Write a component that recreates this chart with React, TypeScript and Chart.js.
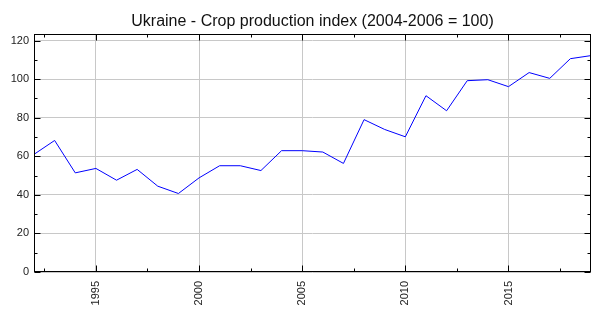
import React, { useEffect, useRef } from "react";
import { Chart, registerables } from "chart.js";

Chart.register(...registerables);

const TITLE = "Ukraine - Crop production index (2004-2006 = 100)";
const years = [1992, 1993, 1994, 1995, 1996, 1997, 1998, 1999, 2000, 2001, 2002, 2003, 2004, 2005, 2006, 2007, 2008, 2009, 2010, 2011, 2012, 2013, 2014, 2015, 2016, 2017, 2018, 2019];
const values = [61.0, 68.2, 51.4, 53.7, 47.6, 53.2, 44.5, 40.7, 48.8, 55.1, 55.1, 52.6, 62.9, 62.9, 62.2, 56.3, 79.0, 73.9, 70.1, 91.4, 83.6, 99.2, 99.7, 96.1, 103.4, 100.4, 110.6, 112.2];
const xTicks = [1995, 2000, 2005, 2010, 2015];
const xMinorTicks = [1992.5, 1997.5, 2002.5, 2007.5, 2012.5, 2017.5];
const yTicks = [0, 20, 40, 60, 80, 100, 120];
const yMinorTicks = [10, 30, 50, 70, 90, 110];
const X_MIN = 1992;
const X_MAX = 2019;
const Y_MIN = 0;
const Y_MAX = 123.4;

const FONT = "'Liberation Sans', Arial, sans-serif";

const titlePlugin = {
  id: "centeredTitle",
  afterDraw(chart: any) {
    const { ctx, chartArea } = chart;
    ctx.save();
    ctx.fillStyle = "#111";
    ctx.font = `16px ${FONT}`;
    ctx.textAlign = "center";
    ctx.textBaseline = "alphabetic";
    ctx.fillText(TITLE, (chartArea.left + chartArea.right) / 2, 26);
    ctx.restore();
  },
};

const framePlugin = {
  id: "frameTicks",
  afterDatasetsDraw(chart: any) {
    const { ctx, chartArea, scales } = chart;
    const { left, right, top, bottom } = chartArea;
    const x = scales.x;
    const y = scales.y;
    ctx.save();
    ctx.strokeStyle = "#000";
    ctx.lineWidth = 1;
    ctx.beginPath();
    const L = Math.round(left) + 0.5;
    const R = Math.round(right) - 0.5;
    const T = Math.round(top) + 0.5;
    const B = Math.round(bottom) - 0.5;
    const major = 6;
    const minor = 3;
    xTicks.forEach((v) => {
      const px = Math.round(x.getPixelForValue(v)) + 0.5;
      ctx.moveTo(px, B);
      ctx.lineTo(px, B - major);
      ctx.moveTo(px, T);
      ctx.lineTo(px, T + major);
    });
    xMinorTicks.forEach((v) => {
      const px = Math.round(x.getPixelForValue(v)) + 0.5;
      ctx.moveTo(px, B);
      ctx.lineTo(px, B - minor);
      ctx.moveTo(px, T);
      ctx.lineTo(px, T + minor);
    });
    yTicks.forEach((v) => {
      const py = Math.round(y.getPixelForValue(v)) + 0.5;
      ctx.moveTo(L, py);
      ctx.lineTo(L + major, py);
      ctx.moveTo(R, py);
      ctx.lineTo(R - major, py);
    });
    yMinorTicks.forEach((v) => {
      const py = Math.round(y.getPixelForValue(v)) + 0.5;
      ctx.moveTo(L, py);
      ctx.lineTo(L + minor, py);
      ctx.moveTo(R, py);
      ctx.lineTo(R - minor, py);
    });
    ctx.stroke();
    ctx.strokeRect(L, T, R - L, B - T);
    ctx.restore();
  },
};

export default function App() {
  const ref = useRef<HTMLCanvasElement | null>(null);
  useEffect(() => {
    if (!ref.current) return;
    const chart = new Chart(ref.current, {
      type: "line",
      data: {
        datasets: [
          {
            data: years.map((yr, i) => ({ x: yr, y: values[i] })),
            borderColor: "#0000ff",
            borderWidth: 1,
            pointRadius: 0,
            tension: 0,
            fill: false,
          },
        ],
      },
      options: {
        responsive: false,
        animation: false,
        layout: { padding: { left: 0, right: 9, top: 34, bottom: 0 } },
        plugins: {
          legend: { display: false },
          tooltip: { enabled: false },
          title: { display: false },
        },
        scales: {
          x: {
            type: "linear",
            min: X_MIN,
            max: X_MAX,
            afterBuildTicks: (scale: any) => {
              scale.ticks = xTicks.map((v) => ({ value: v }));
            },
            afterFit: (scale: any) => {
              scale.height = 43;
            },
            grid: { color: "#c8c8c8", drawTicks: false, lineWidth: 1 },
            border: { display: false },
            ticks: {
              autoSkip: false,
              maxRotation: 90,
              minRotation: 90,
              padding: 9,
              color: "#222",
              font: { family: FONT, size: 11 },
              callback: (v: any) => String(v),
            },
          },
          y: {
            type: "linear",
            min: Y_MIN,
            max: Y_MAX,
            afterBuildTicks: (scale: any) => {
              scale.ticks = yTicks.map((v) => ({ value: v }));
            },
            afterFit: (scale: any) => {
              scale.width = 34;
            },
            grid: { color: "#c8c8c8", drawTicks: false, lineWidth: 1 },
            border: { display: false },
            ticks: {
              padding: 5,
              color: "#222",
              font: { family: FONT, size: 11 },
              callback: (v: any) => String(v),
            },
          },
        },
      },
      plugins: [framePlugin, titlePlugin],
    });
    return () => chart.destroy();
  }, []);
  return (
    <div style={{ position: "fixed", left: 0, top: 0, width: 600, height: 315, background: "#fff" }}>
      <canvas ref={ref} width={600} height={315} style={{ display: "block" }} />
    </div>
  );
}
